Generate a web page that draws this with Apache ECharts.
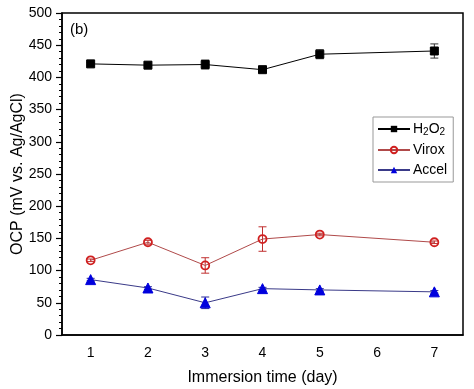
<!DOCTYPE html>
<html><head><meta charset="utf-8">
<script src="https://cdn.jsdelivr.net/npm/echarts@6/dist/echarts.min.js"></script>
<style>html,body{margin:0;padding:0;background:#fff}#c{width:474px;height:389px}</style>
</head><body><div id="c"></div>
<script>
const days = ['1','2','3','4','5','6','7'];
const yTicks = [0,50,100,150,200,250,300,350,400,450,500];
const h2o2 = [421, 419, 420, 412, 436, null, 441];
const h2o2Err = [2, 2, 7, 2, 7, null, 11];
const virox = [116, 144, 108, 149, 156, null, 144];
const viroxErr = [2, 3, 12, 19, 2, null, 2];
const accel = [86, 73, 50, 72, 70, null, 67];
const accelErr = [2, 2, 9, 2, 2, null, 2];

const font = 'Arial, "Liberation Sans", sans-serif';
function errData(vals, errs){
  const out=[];
  vals.forEach((v,i)=>{ if(v!==null) out.push([i, v-errs[i], v+errs[i]]); });
  return out;
}
function errSeries(vals, errs, color){
  return {
    type:'custom', silent:true, z:1,
    data: errData(vals, errs),
    renderItem:function(params, api){
      const x=api.value(0);
      const lo=api.coord([x, api.value(1)]);
      const hi=api.coord([x, api.value(2)]);
      const w=4;
      const st={stroke:color, lineWidth:1};
      return {type:'group', children:[
        {type:'line', shape:{x1:lo[0],y1:lo[1],x2:hi[0],y2:hi[1]}, style:st},
        {type:'line', shape:{x1:lo[0]-w,y1:lo[1],x2:lo[0]+w,y2:lo[1]}, style:st},
        {type:'line', shape:{x1:hi[0]-w,y1:hi[1],x2:hi[0]+w,y2:hi[1]}, style:st}
      ]};
    }
  };
}
const chart = echarts.init(document.getElementById('c'));
chart.setOption({
  animation:false,
  backgroundColor:'#fff',
  grid:{left:62, right:11, top:13, bottom:54, containLabel:false, outerBoundsMode:'none',
        show:true, borderColor:'#000', borderWidth:1.5},
  xAxis:{
    type:'category', data:days, boundaryGap:true,
    name:'Immersion time (day)', nameLocation:'middle', nameGap:35, nameMoveOverlap:false,
    nameTextStyle:{fontFamily:font, fontSize:16, color:'#000'},
    axisLine:{lineStyle:{color:'#000', width:1.5}},
    axisTick:{alignWithLabel:true, length:6, lineStyle:{color:'#000', width:1.2}},
    axisLabel:{fontFamily:font, fontSize:14, color:'#000', margin:11},
    splitLine:{show:false}
  },
  yAxis:{
    type:'value', min:yTicks[0], max:yTicks[yTicks.length-1], interval:50,
    name:'OCP (mV vs. Ag/AgCl)', nameLocation:'middle', nameGap:36, nameMoveOverlap:false,
    nameTextStyle:{fontFamily:font, fontSize:16, color:'#000'},
    axisLine:{show:true, lineStyle:{color:'#000', width:1.5}},
    axisTick:{show:true, length:6, lineStyle:{color:'#000', width:1.2}},
    minorTick:{show:true, splitNumber:5, length:3, lineStyle:{color:'#000', width:1}},
    axisLabel:{fontFamily:font, fontSize:14, color:'#000', margin:10},
    splitLine:{show:false}
  },
  legend:{
    orient:'vertical', left:373, top:117, itemGap:6, itemWidth:32, itemHeight:8,
    padding:[5,6,5,4], borderColor:'#999', borderWidth:1, backgroundColor:'#fff',
    data:['H2O2','Virox','Accel'],
    formatter:function(n){ return n==='H2O2' ? '{n|H}{s|2}{n|O}{s|2}' : '{n|'+n+'}'; },
    textStyle:{fontFamily:font, fontSize:14, color:'#000', padding:[0,0,0,-2],
      rich:{n:{fontFamily:font, fontSize:14, color:'#000'}, s:{fontFamily:font, fontSize:10, color:'#000', verticalAlign:'bottom', padding:[6,0,0,0]}}}
  },
  graphic:[{type:'text', left:70, top:22, style:{text:'(b)', fontFamily:font, fontSize:15, fill:'#000'}}],
  series:[
    errSeries(h2o2, h2o2Err, '#333'),
    errSeries(virox, viroxErr, '#c03030'),
    errSeries(accel, accelErr, '#2a2a9a'),
    {name:'H2O2', type:'line', data:h2o2, connectNulls:true, symbol:'rect', symbolSize:8, z:3,
     lineStyle:{color:'#000', width:1}, itemStyle:{color:'#000', borderColor:'#000'}},
    {name:'Virox', type:'line', data:virox, connectNulls:true, symbol:'circle', symbolSize:8, z:3,
     lineStyle:{color:'#b04a4a', width:1}, itemStyle:{color:'rgba(255,255,255,0)', borderColor:'#d02020', borderWidth:1.8}},
    {name:'Accel', type:'line', data:accel, connectNulls:true, symbol:'triangle', symbolSize:10, z:3,
     lineStyle:{color:'#3a3a88', width:1}, itemStyle:{color:'#0000dd', borderColor:'#0000dd'}}
  ]
});
</script></body></html>
